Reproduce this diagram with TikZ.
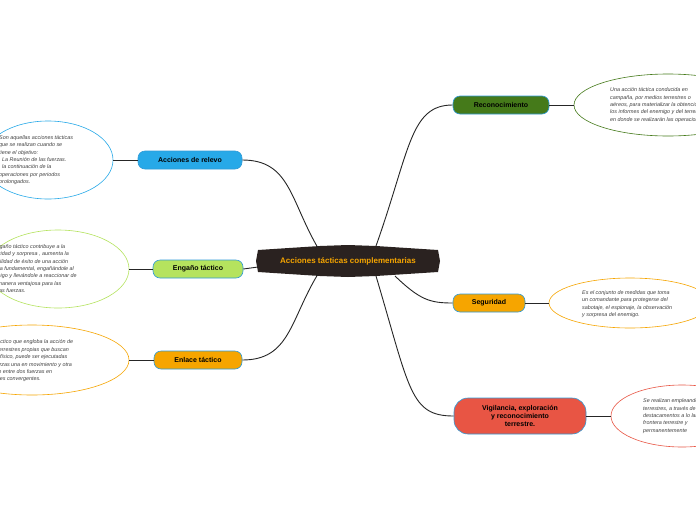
\documentclass[tikz,border=0pt]{standalone}
\usepackage{fontspec}
\setmainfont{Liberation Sans}
\definecolor{cgreen}{HTML}{457A1A}
\definecolor{clgreen}{HTML}{B5E35E}
\definecolor{cred}{HTML}{E85544}
\definecolor{cblue}{HTML}{27A9E8}
\definecolor{corange}{HTML}{F6A500}
\definecolor{ccent}{HTML}{2A2220}
\definecolor{cbord}{HTML}{2F9BD8}
\begin{document}
\begin{tikzpicture}[x=1pt,y=-1pt,
 branch/.style={draw=cbord,line width=0.6pt,rounded corners=7pt,font=\fontsize{7}{8}\selectfont\bfseries,align=center,inner sep=0pt},
 desc/.style={anchor=west,align=left,inner sep=0pt,font=\fontsize{5.4}{7.4}\selectfont\itshape,text=black!75},
 conn/.style={line width=0.9pt,black!85}]
\clip (0,0) rectangle (696,520);
\useasboundingbox (0,0) rectangle (696,520);
\fill[white] (0,0) rectangle (696,520);
% central
\fill[ccent] (258,250) -- (320,246) -- (348,245) -- (376,246) -- (438,250) -- (440,261) -- (438,272) -- (376,276) -- (348,277) -- (320,276) -- (258,272) -- (256,261) -- cycle;
\node[font=\fontsize{8}{9}\selectfont\bfseries,text=corange] (c) at (348,261) {Acciones tácticas complementarias};
% branches
\node[branch,fill=cgreen,minimum width=96pt,minimum height=18pt] (r) at (501,105) {Reconocimiento};
\node[branch,fill=corange,minimum width=72pt,minimum height=18pt] (s) at (489,303) {Seguridad};
\node[branch,fill=cred,minimum width=132pt,minimum height=36pt,rounded corners=14pt] (v) at (520,416) {Vigilancia, exploración\\y reconocimiento\\terrestre.};
\node[branch,fill=cblue,minimum width=104pt,minimum height=18pt] (a) at (190,160) {Acciones de relevo};
\node[branch,fill=clgreen,minimum width=90pt,minimum height=18pt] (e) at (198,269) {Engaño táctico};
\node[branch,fill=corange,minimum width=88pt,minimum height=18pt] (n) at (198,360) {Enlace táctico};
% connectors
\draw[conn] (376,246) .. controls (410,150) and (410,105) .. (r.west);
\draw[conn] (395,276) .. controls (420,300) and (430,303) .. (s.west);
\draw[conn] (376,276) .. controls (410,390) and (410,416) .. (v.west);
\draw[conn] (318,248) .. controls (290,200) and (290,160) .. (a.east);
\draw[conn] (258,267) -- (e.east);
\draw[conn] (318,274) .. controls (290,320) and (290,360) .. (n.east);
% ellipses
\draw[cblue,line width=0.6pt] (48,160) ellipse (65 and 39); \coordinate (ea) at (113,160);
\draw[clgreen,line width=0.6pt] (58,269) ellipse (71 and 39); \coordinate (ee) at (129,269);
\draw[corange,line width=0.6pt] (32,360) ellipse (97 and 35); \coordinate (en) at (129,360);
\draw[cgreen,line width=0.6pt] (668,105) ellipse (94 and 31); \coordinate (er) at (574,105);
\draw[corange,line width=0.6pt] (630,303) ellipse (81 and 25); \coordinate (es) at (549,303);
\draw[cred,line width=0.6pt] (682,416) ellipse (71 and 31); \coordinate (ev) at (611,416);
\draw[conn] (a.west) -- (ea);
\draw[conn] (e.west) -- (ee);
\draw[conn] (n.west) -- (en);
\draw[conn] (r.east) -- (er);
\draw[conn] (s.east) -- (es);
\draw[conn] (v.east) -- (ev);
% texts
\node[desc] (ta) at (-1,160) {Son aquellas acciones tácticas\\ que se realizan cuando se\\ tiene el objetivo:\\ \ \ La Reunión de las fuerzas.\\ \ \ la continuación de la\\ operaciones por periodos\\ prolongados.};
\node[desc] (te) at (-13,269) {El engaño táctico contribuye a la\\ seguridad y sorpresa , aumenta la\\ posibilidad de éxito de una acción\\ táctica fundamental, engañándole al\\ enemigo y llevándole a reaccionar de\\ una manera ventajosa para las\\ propias fuerzas.};
\node[desc] (tn) at (-22,361) {Acción táctico que engloba la acción de\\ fuerzas terrestres propias que buscan\\ contacto físico, puede ser ejecutadas\\ entre fuerzas una en movimiento y otra\\ estática o entre dos fuerzas en\\ direcciones convergentes.};
\node[desc] (tr) at (610,105) {Una acción táctica conducida en\\ campaña, por medios terrestres o\\ aéreos, para materializar la obtención de\\ los informes del enemigo y del terreno\\ en donde se realizarán las operaciones.};
\node[desc] (ts) at (582,304) {Es el conjunto de medidas que toma\\ un comandante para protegerse del\\ sabotaje, el espionaje, la observación\\ y sorpresa del enemigo.};
\node[desc] (tv) at (643,416) {Se realizan empleando fuerzas\\ terrestres, a través de\\ destacamentos a lo largo de la\\ frontera terrestre y\\ permanentemente};
\end{tikzpicture}
\end{document}
